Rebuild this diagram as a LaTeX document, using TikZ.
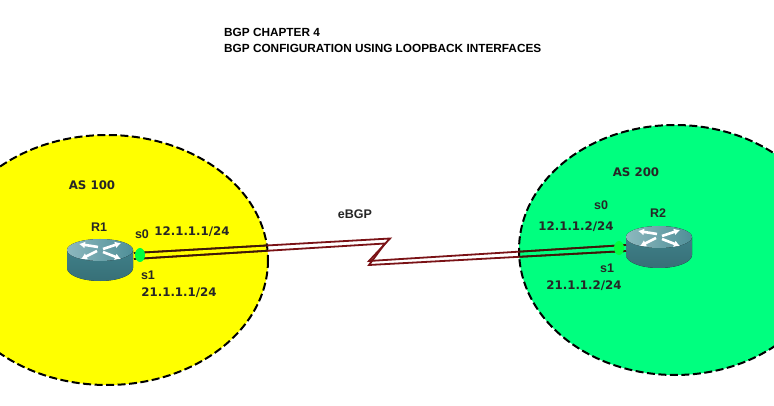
\documentclass[tikz,border=0pt]{standalone}
\usepackage{fontspec}
\setmainfont{Liberation Sans}
\newfontfamily\ipfont{DejaVu Sans}
\usetikzlibrary{arrows.meta}
\definecolor{asyellow}{HTML}{FFFF00}
\definecolor{asgreen}{HTML}{00FF7F}
\definecolor{linkred}{HTML}{7A1216}
\definecolor{linkdark}{HTML}{3A1A08}
\definecolor{dotgreen}{HTML}{00FF40}
\definecolor{routerlight}{HTML}{8DB8BE}
\definecolor{routertop}{HTML}{4F8F98}
\definecolor{routerside}{HTML}{3F7F88}
\tikzset{
  asarea/.style={draw=black,line width=2pt,dash pattern=on 8pt off 3.5pt},
  linkline/.style={draw=linkred,line width=1.8pt},
  portdot/.style={draw=none,fill=dotgreen},
  lbl/.style={font=\fontsize{12.5}{14}\selectfont\bfseries,text=black!85,inner sep=0pt},
  iplbl/.style={font=\ipfont\fontsize{11.8}{14}\selectfont\bfseries,text=black!85,inner sep=0pt},
  title/.style={font=\fontsize{11.8}{14}\selectfont\bfseries,text=black,inner sep=0pt,anchor=west},
  arrowline/.style={draw=white,line width=2.6pt,-{Latex[length=6pt,width=7pt]}}
}
\newcommand{\routericon}[2]{
\begin{scope}[shift={(#1,#2)}]
\fill[bottom color=routerside!88!black,top color=routerside] (-33,0)--(-33,18) arc (180:0:33 and 13)--(33,0)--cycle;
\fill[left color=routerlight,right color=routertop] (0,0) ellipse (33 and 11);
\draw[arrowline] (-2,-3)--(-21,-6);
\draw[arrowline] (3,-1)--(21,-7);
\draw[arrowline] (-3,1)--(-19,9);
\draw[arrowline] (3,2)--(21,9);
\end{scope}
}
\begin{document}
\begin{tikzpicture}[x=1pt,y=-1pt]
\useasboundingbox (0,0) rectangle (774,406);
\fill[white] (0,0) rectangle (774,406);
\draw[asarea,fill=asyellow] (107,260) ellipse (161 and 125);
\draw[asarea,fill=asgreen] (675,250) ellipse (156 and 125);
\routericon{100}{250}
\routericon{659}{237}
\coordinate (p1a) at (134,253);
\coordinate (p1b) at (134,259);
\coordinate (z1a) at (390,238.5);
\coordinate (z1b) at (385,243.5);
\coordinate (z2a) at (369,261);
\coordinate (z2b) at (369,265);
\coordinate (p2a) at (626,245);
\coordinate (p2b) at (626,251);
\draw[linkline] (p1a)--(z1a)--(z2a)--(p2a);
\draw[linkline] (p1b)--(z1b)--(z2b)--(p2b);
\begin{scope}
\clip (107,260) ellipse (161 and 125);
\draw[linkline,draw=linkdark] (p1a)--(z1a);
\draw[linkline,draw=linkdark] (p1b)--(z1b);
\end{scope}
\begin{scope}
\clip (675,250) ellipse (156 and 125);
\draw[linkline,draw=linkdark] (z2a)--(p2a);
\draw[linkline,draw=linkdark] (z2b)--(p2b);
\end{scope}
\fill[portdot] (140,255) ellipse (5 and 7);
\fill[portdot] (619,248) ellipse (5 and 7);
\node[title] (head1) at (224,32) {BGP CHAPTER 4};
\node[title] (head2) at (224,48) {BGP CONFIGURATION USING LOOPBACK INTERFACES};
\node[iplbl] (as100) at (92,185) {AS 100};
\node[iplbl] (as200) at (636,172) {AS 200};
\node[lbl] (r1) at (99,227) {R1};
\node[lbl] (r2) at (658,213) {R2};
\node[lbl] (ebgp) at (355,214) {eBGP};
\node[lbl] (s0a) at (142,234) {s0};
\node[iplbl] (ipa) at (192,232) {12.1.1.1/24};
\node[lbl] (s1a) at (148,275) {s1};
\node[iplbl] (ipb) at (179,293) {21.1.1.1/24};
\node[lbl] (s0b) at (601,205) {s0};
\node[iplbl] (ipc) at (576,227) {12.1.1.2/24};
\node[lbl] (s1b) at (607,268) {s1};
\node[iplbl] (ipd) at (584,286) {21.1.1.2/24};
\end{tikzpicture}
\end{document}
